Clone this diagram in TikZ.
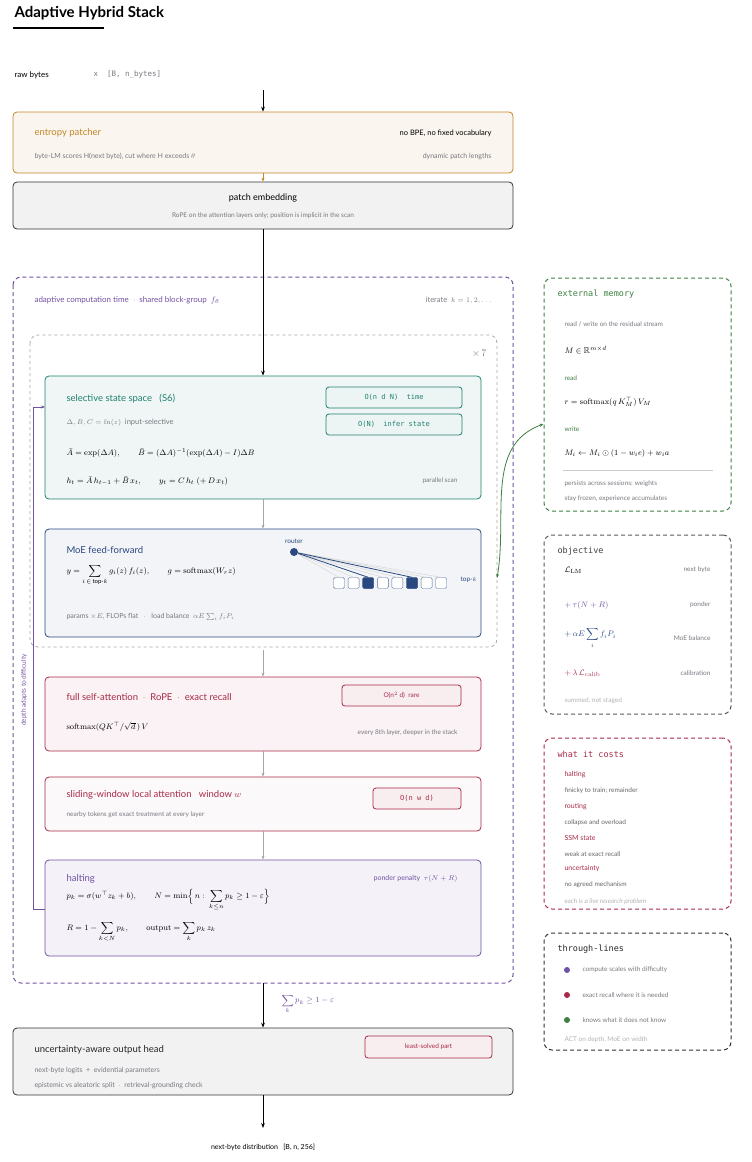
\documentclass[tikz,border=0pt]{standalone}
\usepackage{amsmath,amssymb}
\usepackage[no-math]{fontspec}
\setmainfont{Lato}
\setmonofont{DejaVu Sans Mono}
\usetikzlibrary{positioning,arrows.meta}
\definecolor{patchColor}{RGB}{196,134,40}
\definecolor{ssmColor}{RGB}{31,128,112}
\definecolor{moeColor}{RGB}{42,72,128}
\definecolor{attColor}{RGB}{168,42,72}
\definecolor{actColor}{RGB}{112,82,162}
\definecolor{memColor}{RGB}{62,128,66}
\definecolor{noteColor}{RGB}{120,120,128}
\tikzset{
  box/.style = {draw=#1, thick, rounded corners = 4pt, inner sep = 0pt},
  dashBox/.style = {draw=#1, line width=1pt, dash pattern=on 4pt off 3pt, rounded corners = 8pt},
  badge/.style = {draw=#1, thick, rounded corners = 3pt, fill=#1!8, inner sep = 0pt,
    minimum height = 21pt, text=#1, font=\ttfamily\fontsize{7}{8}\selectfont},
  head/.style = {anchor=west, text=#1, font=\fontsize{9.5}{11}\selectfont},
  note/.style = {anchor=west, text=noteColor, font=\fontsize{7}{8}\selectfont},
  noteR/.style = {anchor=east, text=noteColor, font=\fontsize{7}{8}\selectfont},
  eqn/.style = {anchor=west, font=\fontsize{8.5}{10}\selectfont},
  flow/.style = {-{Stealth[length=5pt]}, thick},
  stepArrow/.style = {-{Stealth[length=4pt]}, color=gray!70, thick},
  sideTitle/.style = {anchor=west, text=#1, font=\ttfamily\fontsize{8.5}{10}\selectfont},
  expert/.style = {draw=moeColor!80, fill=white, rounded corners = 1.5pt, minimum size = 11pt, inner sep = 0pt},
}
\begin{document}
\begin{tikzpicture}[x=1pt, y=-1pt]
  \useasboundingbox (0,0) rectangle (752,1162);
  % title
  \node[anchor=west, font=\bfseries\fontsize{15}{17}\selectfont] (title) at (11,13) {Adaptive Hybrid Stack};
  \draw[line width=1.5pt] (13,28) -- (104,28);
  \node[anchor=west, font=\fontsize{8}{9}\selectfont] (raw) at (11,75) {raw bytes};
  \node[anchor=west, text=noteColor, font=\ttfamily\fontsize{7.5}{9}\selectfont] (rawShape) at (90,75) {x\ \ [B, n\_bytes]};
  \coordinate (rawEnd) at (263,90);

  % entropy patcher
  \node[box=patchColor, fill=patchColor!8, minimum width=500pt, minimum height=61pt] (patcher) at (263,142.5) {};
  \node[head=patchColor] (patcherTitle) at (31,133) {entropy patcher};
  \node[anchor=east, font=\fontsize{7.5}{9}\selectfont] (patcherR) at (495,133) {no BPE, no fixed vocabulary};
  \node[note] (patcherSub) at (31,156) {byte-LM scores H(next byte), cut where H exceeds $\theta$};
  \node[noteR] (patcherLen) at (495,157) {dynamic patch lengths};

  % patch embedding
  \node[box=black!80, fill=gray!10, minimum width=500pt, minimum height=47pt] (embed) at (263,205.5) {};
  \node[font=\fontsize{9}{11}\selectfont] (embedTitle) at (263,198) {patch embedding};
  \node[text=noteColor, font=\fontsize{6.5}{8}\selectfont] (embedSub) at (263,216) {RoPE on the attention layers only; position is implicit in the scan};

  \draw[flow] (rawEnd) -- (patcher.north);
  \draw[-{Stealth[length=4pt]}, patchColor, thick] (patcher.south) -- (embed.north);

  % adaptive computation time
  \draw[dashBox=actColor] (13,277) rectangle (513,983);
  \node[head=actColor, font=\fontsize{8}{10}\selectfont] (actTitle) at (31,300) {adaptive computation time \ $\cdot$\ \ shared block-group \ $f_\theta$};
  \node[noteR, font=\fontsize{7.5}{9}\selectfont] (actIter) at (495,300) {iterate \ $k=1,2,\ldots$};
  \draw[dashed, gray!70, thick] (30,335) [rounded corners=8pt] rectangle (497,647);
  \node[anchor=east, text=noteColor, font=\fontsize{10}{11}\selectfont] (times) at (490,354) {$\times\,7$};

  % selective state space
  \node[box=ssmColor, fill=ssmColor!7, minimum width=436pt, minimum height=123pt] (ssm) at (263,437.5) {};
  \node[head=ssmColor] (ssmTitle) at (63,399) {selective state space \ \ (S6)};
  \node[badge=ssmColor, minimum width=136pt] (ssmTime) at (394,397.5) {O(n d N)\ \ time};
  \node[badge=ssmColor, minimum width=136pt] (ssmState) at (394,424.5) {O(N)\ \ infer state};
  \node[note, font=\fontsize{7.5}{9}\selectfont] (ssmSel) at (63,423) {$\Delta,B,C=\mathrm{fn}(z)$ \ input-selective};
  \node[eqn] (ssmEq1) at (63,453) {$\bar A=\exp(\Delta A),\qquad \bar B=(\Delta A)^{-1}(\exp(\Delta A)-I)\Delta B$};
  \node[eqn] (ssmEq2) at (63,481) {$h_t=\bar A\,h_{t-1}+\bar B\,x_t,\qquad y_t=C\,h_t\ (+\,D\,x_t)$};
  \node[noteR, font=\fontsize{6.5}{8}\selectfont] (ssmScan) at (461,481) {parallel scan};

  % MoE feed-forward
  \node[box=moeColor, fill=moeColor!6, minimum width=436pt, minimum height=108pt] (moe) at (263,583) {};
  \node[head=moeColor] (moeTitle) at (63,550) {MoE feed-forward};
  \node[eqn] (moeEq) at (63,575) {$y=\displaystyle\sum_{i\,\in\,\text{top-}k} g_i(z)\,f_i(z),\qquad g=\mathrm{softmax}(W_r z)$};
  \node[note] (moeNote) at (63,617) {params $\times E$, FLOPs flat \ \ $\cdot$ \ \ load balance \ $\alpha E\sum_i f_iP_i$};
  \node[circle, fill=moeColor, inner sep=0pt, minimum size=8pt] (router) at (294,552) {};
  \node[text=moeColor, font=\fontsize{6.5}{8}\selectfont, above=1pt of router] (routerLabel) {router};
  \foreach \e in {0,...,7} {
    \node[expert] (expert\e) at (339+14.6*\e,583) {};
  }
  \foreach \e in {0,1,3,4,6,7} {
    \draw[gray!35] (router) -- (expert\e.north);
  }
  \foreach \e in {2,5} {
    \draw[moeColor, thick] (router) -- (expert\e.north);
    \node[expert, fill=moeColor, draw=moeColor] at (expert\e) {};
  }
  \node[anchor=west, text=moeColor, font=\fontsize{6.5}{8}\selectfont] (topk) at (457,580) {top-$k$};

  % full self-attention
  \node[box=attColor, fill=attColor!6, minimum width=436pt, minimum height=74pt] (att) at (263,714) {};
  \node[head=attColor] (attTitle) at (63,697) {full self-attention \ $\cdot$ \ RoPE \ $\cdot$ \ exact recall};
  \node[badge=attColor, minimum width=119pt, font=\fontsize{6.5}{8}\selectfont] (attCost) at (401.5,695.5) {O(n$^2$ d)\ \ rare};
  \node[eqn] (attEq) at (63,727) {$\mathrm{softmax}(QK^\top/\sqrt{d}\,)\,V$};
  \node[noteR, font=\fontsize{6.5}{8}\selectfont] (attNote) at (461,733) {every 8th layer, deeper in the stack};

  % sliding-window attention
  \node[box=attColor, fill=attColor!3, minimum width=436pt, minimum height=54pt] (swa) at (263,804) {};
  \node[head=attColor] (swaTitle) at (63,795) {sliding-window local attention \ \ window $w$};
  \node[badge=attColor, minimum width=88pt] (swaCost) at (417,798.5) {O(n w d)};
  \node[note, font=\fontsize{6.5}{8}\selectfont] (swaNote) at (63,815) {nearby tokens get exact treatment at every layer};

  % halting
  \node[box=actColor, fill=actColor!8, minimum width=436pt, minimum height=96pt] (halt) at (263,908) {};
  \node[head=actColor] (haltTitle) at (63,879) {halting};
  \node[anchor=east, text=actColor, font=\fontsize{7}{9}\selectfont] (ponder) at (461,879) {ponder penalty \ $\tau(N+R)$};
  \node[eqn] (haltEq1) at (63,900) {$p_k=\sigma(w^\top z_k+b),\qquad N=\min\Bigl\{\,n:\ \displaystyle\sum_{k\le n}p_k\ge 1-\varepsilon\Bigr\}$};
  \node[eqn] (haltEq2) at (63,932) {$R=1-\displaystyle\sum_{k<N}p_k,\qquad \mathrm{output}=\displaystyle\sum_k p_k\,z_k$};

  % flow inside the stack
  \draw[flow] (embed.south) -- (ssm.north);
  \draw[stepArrow] (ssm.south) -- (moe.north);
  \draw[stepArrow] (263,650) -- (att.north);
  \draw[stepArrow] (att.south) -- (swa.north);
  \draw[stepArrow] (swa.south) -- (halt.north);

  % depth loop
  \coordinate (loopTop) at (45,407);
  \draw[actColor, line width=1pt, -{Stealth[length=4pt]}] (halt.west |- 0,909) -- (33,909) -- (33,407) -- (loopTop);
  \node[rotate=90, text=actColor, font=\fontsize{6.5}{8}\selectfont] (loopLabel) at (24,690) {depth adapts to difficulty};

  % output head
  \coordinate (actBottom) at (263,983);
  \node[box=black!80, fill=gray!10, minimum width=500pt, minimum height=67pt] (outHead) at (263,1061.5) {};
  \draw[flow] (actBottom) -- (outHead.north);
  \node[anchor=west, text=actColor, font=\fontsize{8}{10}\selectfont] (haltCond) at (278,1004) {$\displaystyle\sum_k p_k\ge 1-\varepsilon$};
  \node[head=black!85] (outTitle) at (31,1050) {uncertainty-aware output head};
  \node[badge=attColor, minimum width=127pt, minimum height=22pt, font=\fontsize{6.5}{8}\selectfont] (leastSolved) at (428.5,1047) {least-solved part};
  \node[note] (outNote1) at (31,1071) {next-byte logits \ + \ evidential parameters};
  \node[note] (outNote2) at (31,1086) {epistemic vs aleatoric split \ $\cdot$ \ retrieval-grounding check};
  \coordinate (outEnd) at (263,1128);
  \draw[flow] (outHead.south) -- (outEnd);
  \node[font=\fontsize{7}{8}\selectfont] (outShape) at (263,1147) {next-byte distribution \ \ [B, n, 256]};

  % external memory
  \node[dashBox=memColor, minimum width=187pt, minimum height=233pt, inner sep=0pt] (mem) at (637.5,394.5) {};
  \node[sideTitle=memColor] (memTitle) at (554,294) {external memory};
  \node[note, font=\fontsize{6.5}{8}\selectfont] (memNote) at (561,324) {read / write on the residual stream};
  \node[eqn] (memM) at (561,350) {$M\in\mathbb{R}^{m\times d}$};
  \node[note, text=memColor, font=\fontsize{6.5}{8}\selectfont] (memRead) at (561,378) {read};
  \node[eqn] (memReadEq) at (561,402) {$r=\mathrm{softmax}(q\,K_M^\top)\,V_M$};
  \node[note, text=memColor, font=\fontsize{6.5}{8}\selectfont] (memWrite) at (561,429) {write};
  \node[eqn] (memWriteEq) at (561,453) {$M_i\leftarrow M_i\odot(1-w_ie)+w_ia$};
  \draw[gray!40] (563,470) -- (713,470);
  \node[note, font=\fontsize{6.5}{8}\selectfont] (memPersist1) at (561,484) {persists across sessions: weights};
  \node[note, font=\fontsize{6.5}{8}\selectfont] (memPersist2) at (561,499) {stay frozen, experience accumulates};
  \draw[memColor, thick, {Stealth[length=4pt]}-{Stealth[length=4pt]}] (497,578) to[out=80, in=200] (mem.west |- 0,424);

  % objective
  \node[dashBox=gray!70!black, minimum width=187pt, minimum height=179pt, inner sep=0pt] (objective) at (637.5,624.5) {};
  \node[sideTitle=black!75] (objTitle) at (554,551) {objective};
  \node[eqn] (objLM) at (561,570) {$\mathcal{L}_{\mathrm{LM}}$};
  \node[noteR, font=\fontsize{6.5}{8}\selectfont] (objLMr) at (714,570) {next byte};
  \node[eqn, text=actColor] (objPonder) at (561,605) {$+\,\tau(N+R)$};
  \node[noteR, font=\fontsize{6.5}{8}\selectfont] (objPonderR) at (714,605) {ponder};
  \node[eqn, text=moeColor] (objMoE) at (561,638) {$+\,\alpha E\displaystyle\sum_i f_iP_i$};
  \node[noteR, font=\fontsize{6.5}{8}\selectfont] (objMoER) at (714,638) {MoE balance};
  \node[eqn, text=attColor] (objCal) at (561,673) {$+\,\lambda\,\mathcal{L}_{\mathrm{calib}}$};
  \node[noteR, font=\fontsize{6.5}{8}\selectfont] (objCalR) at (714,673) {calibration};
  \node[note, text=gray!60, font=\fontsize{6.5}{8}\selectfont] (objSum) at (561,701) {summed, not staged};

  % what it costs
  \node[dashBox=attColor, minimum width=187pt, minimum height=171pt, inner sep=0pt] (costs) at (637.5,823.5) {};
  \node[sideTitle=attColor] (costTitle) at (554,754) {what it costs};
  \foreach \y/\t/\d in {775/halting/{finicky to train; remainder}, 807/routing/{collapse and overload}, 838/SSM state/{weak at exact recall}, 869/uncertainty/{no agreed mechanism}} {
    \node[note, text=attColor, font=\fontsize{7}{8}\selectfont] at (561,\y) {\t};
    \node[note, text=black!60, font=\fontsize{6.5}{8}\selectfont] at (561,\y+16) {\d};
  }
  \node[note, text=gray!60, font=\itshape\fontsize{6.5}{8}\selectfont] (costNote) at (561,902) {each is a live research problem};

  % through-lines
  \node[dashBox=black!80, minimum width=187pt, minimum height=117pt, inner sep=0pt] (through) at (637.5,991.5) {};
  \node[sideTitle=black!85] (throughTitle) at (554,949) {through-lines};
  \foreach \y/\c/\t in {970/actColor/{compute scales with difficulty}, 995/attColor/{exact recall where it is needed}, 1020/memColor/{knows what it does not know}} {
    \fill[\c] (567,\y) circle (3pt);
    \node[note, font=\fontsize{6.5}{8}\selectfont] at (579,\y) {\t};
  }
  \node[note, text=gray!60, font=\fontsize{6.5}{8}\selectfont] (throughNote) at (561,1040) {ACT on depth, MoE on width};
\end{tikzpicture}
\end{document}
